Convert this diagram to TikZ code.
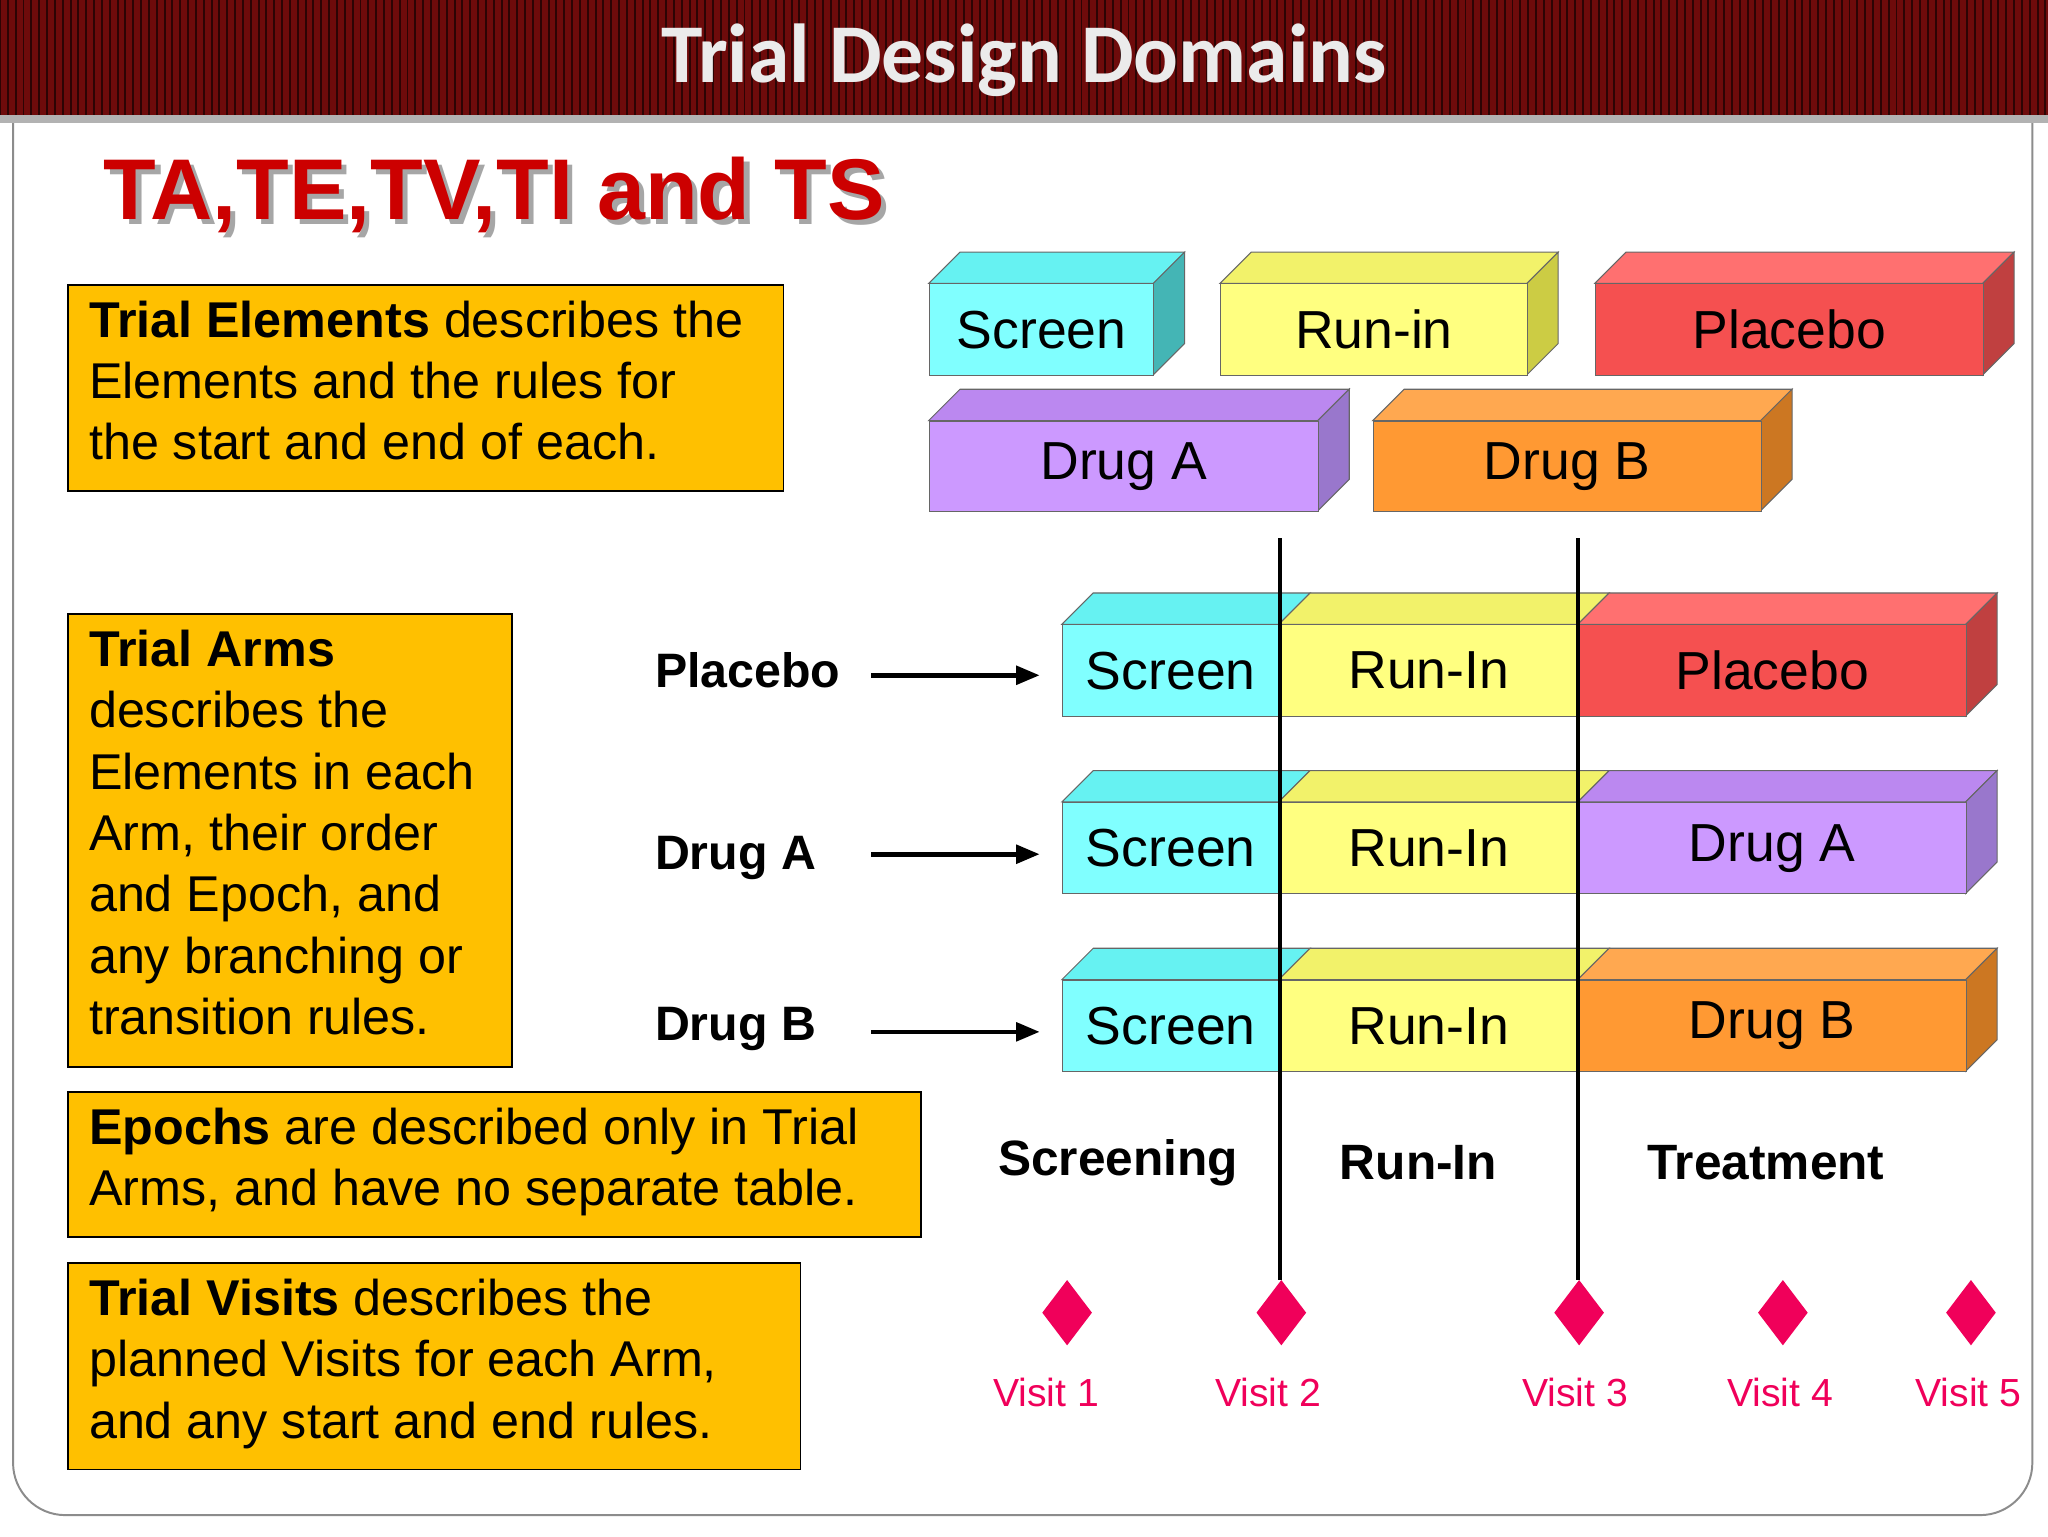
\documentclass[tikz,border=0pt]{standalone}
\usepackage{fontspec}
\setmainfont{Liberation Sans}
\newfontfamily\carl{Carlito}
\usetikzlibrary{arrows.meta}
\definecolor{org}{HTML}{FFC000}
\definecolor{cyF}{HTML}{80FFFF}\definecolor{cyT}{HTML}{66F2F2}\definecolor{cyS}{HTML}{44B5B5}
\definecolor{ylF}{HTML}{FFFF80}\definecolor{ylT}{HTML}{F2F26A}\definecolor{ylS}{HTML}{CCCC44}
\definecolor{rdF}{HTML}{F55050}\definecolor{rdT}{HTML}{FF7070}\definecolor{rdS}{HTML}{C04040}
\definecolor{puF}{HTML}{CC99FF}\definecolor{puT}{HTML}{BB88F0}\definecolor{puS}{HTML}{9977CC}
\definecolor{orF}{HTML}{FF9933}\definecolor{orT}{HTML}{FFA850}\definecolor{orS}{HTML}{CC7722}
\definecolor{ban}{HTML}{6E0B0B}\definecolor{vis}{HTML}{F0005A}
\tikzset{
 box/.style={draw=black,line width=1.2pt,fill=org},
 btxt/.style={anchor=north west,align=left,font=\fontsize{38.5}{47}\selectfont,inner sep=0pt},
 blab/.style={font=\fontsize{41}{48}\selectfont},
 lab/.style={font=\bfseries\fontsize{37}{44}\selectfont,anchor=west},
 ep/.style={font=\bfseries\fontsize{38}{44}\selectfont},
 arr/.style={-{Triangle[length=18pt,width=14pt]},line width=3.5pt},
 dia/.style={fill=vis,draw=none},
 vl/.style={text=vis,font=\fontsize{30}{36}\selectfont},
}
\newcommand{\blk}[9]{%
 \fill[#6,draw=black!60,line width=0.8pt] (#1,#3) -- ++(24,-24) -- (#2+24,#3-24) -- (#2,#3) -- cycle;
 \fill[#7,draw=black!60,line width=0.8pt] (#2,#3) -- (#2+24,#3-24) -- (#2+24,#4-24) -- (#2,#4) -- cycle;
 \node[draw=black!60,line width=0.8pt,fill=#5,minimum width=#2-#1,minimum height=#4-#3,anchor=north west,inner sep=0pt,blab] (#9) at (#1,#3) {#8};}
\newcommand{\blkn}[9]{%
 \fill[#6,draw=black!60,line width=0.8pt] (#1,#3) -- ++(24,-24) -- (#2+24,#3-24) -- (#2,#3) -- cycle;
 \node[draw=black!60,line width=0.8pt,fill=#5,minimum width=#2-#1,minimum height=#4-#3,anchor=north west,inner sep=0pt,blab] (#9) at (#1,#3) {#8};}
\begin{document}
\begin{tikzpicture}[x=1pt,y=-1pt]
\useasboundingbox (0,0) rectangle (1568,1176);
\fill[white] (0,0) rectangle (1568,1176);
% frame
\draw[black!45,line width=1.5pt,rounded corners=40pt] (10,90) -- (10,1160) -- (1556,1160) -- (1556,90);
% banner
\fill[ban] (0,0) rectangle (1568,88);
\foreach \i in {0,6,...,1566} \draw[black!60!ban,line width=1.5pt] (\i,0) -- (\i,88);
\fill[black!30] (0,88) rectangle (1568,94);
\node[text=white!92!black,font=\carl\bfseries\fontsize{64}{70}\selectfont] (title) at (784,46) {Trial Design Domains};
\node[text=black!35,font=\bfseries\fontsize{66}{76}\selectfont,anchor=west] at (80,153) {TA,TE,TV,TI and TS};
\node[text=red!80!black,font=\bfseries\fontsize{66}{76}\selectfont,anchor=west] (sub) at (76,149) {TA,TE,TV,TI and TS};
% left boxes
\draw[box] (52,218) rectangle (600,376);
\node[btxt] (t1) at (68,230) {\textbf{Trial Elements} describes the\\Elements and the rules for\\the start and end of each.};
\draw[box] (52,470) rectangle (392,817);
\node[btxt] (t2) at (68,482) {\textbf{Trial Arms}\\describes the\\Elements in each\\Arm, their order\\and Epoch, and\\any branching or\\transition rules.};
\draw[box] (52,836) rectangle (705,947);
\node[btxt] (t3) at (68,848) {\textbf{Epochs} are described only in Trial\\Arms, and have no separate table.};
\draw[box] (52,967) rectangle (613,1125);
\node[btxt] (t4) at (68,979) {\textbf{Trial Visits} describes the\\planned Visits for each Arm,\\and any start and end rules.};
% top elements
\blk{711}{883}{217}{287}{cyF}{cyT}{cyS}{Screen}{e1}
\blk{934}{1169}{217}{287}{ylF}{ylT}{ylS}{Run-in}{e2}
\blk{1221}{1518}{217}{287}{rdF}{rdT}{rdS}{Placebo}{e3}
\blk{711}{1009}{322}{391}{puF}{puT}{puS}{Drug A}{e4}
\blk{1051}{1348}{322}{391}{orF}{orT}{orS}{Drug B}{e5}
% arms
\foreach \y/\n/\F/\T/\S/\txt in {478/1/rdF/rdT/rdS/Placebo,614/2/puF/puT/puS/Drug A,750/3/orF/orT/orS/Drug B}{
 \blkn{813}{979}{\y}{\y+70}{cyF}{cyT}{cyS}{Screen}{s\n}
 \blkn{979}{1208}{\y}{\y+70}{ylF}{ylT}{ylS}{Run-In}{r\n}
 \blk{1208}{1505}{\y}{\y+70}{\F}{\T}{\S}{\txt}{x\n}
}
\draw[line width=3pt] (980,412) -- (980,980);
\draw[line width=3pt] (1208,412) -- (1208,980);
\node[lab] (l1) at (498,513) {Placebo};
\node[lab] (l2) at (498,657) {Drug A};
\node[lab] (l3) at (498,788) {Drug B};
\coordinate (a1) at (667,517); \coordinate (a2) at (667,654); \coordinate (a3) at (667,790);
\coordinate (b1) at (796,517); \coordinate (b2) at (796,654); \coordinate (b3) at (796,790);
\draw[arr] (a1) -- (b1);
\draw[arr] (a2) -- (b2);
\draw[arr] (a3) -- (b3);
\node[ep] (p1) at (856,890) {Screening};
\node[ep] (p2) at (1086,890) {Run-In};
\node[ep] (p3) at (1352,890) {Treatment};
\foreach \x/\k/\lx in {817/1/801,981/2/971,1209/3/1206,1365/4/1363,1509/5/1507}{
 \fill[dia] (\x,980) -- (\x+19,1005) -- (\x,1030) -- (\x-19,1005) -- cycle;
 \node[vl] (v\k) at (\lx,1066) {Visit \k};
}
\end{tikzpicture}
\end{document}
